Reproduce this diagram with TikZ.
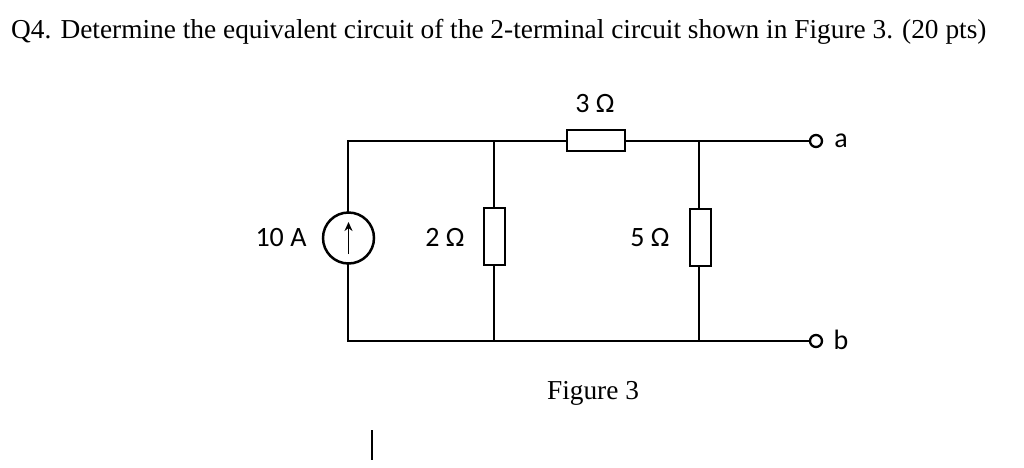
\documentclass[tikz,border=0pt]{standalone}
\usepackage{fontspec}
\setmainfont{Liberation Serif}
\newfontfamily\labelfont{Carlito}
\usetikzlibrary{arrows.meta}
\tikzset{
    wire/.style={line width=2.9pt},
    resistor/.style={draw, line width=2.9pt, fill=white, rectangle, inner sep=0pt},
    terminal/.style={draw, line width=2.3pt, fill=white, circle, inner sep=0pt, minimum size=12pt},
    complabel/.style={font=\labelfont\fontsize{28}{28}\selectfont, inner sep=0pt, anchor=base},
    titletext/.style={font=\fontsize{27.35}{30}\selectfont, inner sep=0pt, anchor=base}
}
\begin{document}
\begin{tikzpicture}[x=1pt,y=-1pt]
\useasboundingbox (0,0) rectangle (1024,467);
\node[titletext, anchor=base west] (title) at (11,38) {Q4. Determine the equivalent circuit of the 2-terminal circuit shown in Figure 3. (20 pts)};
% corners and junctions
\coordinate (tl) at (348,141);
\coordinate (bl) at (348,341);
\coordinate (j1) at (494,141);
\coordinate (j2) at (699,141);
\coordinate (j3) at (494,341);
\coordinate (j4) at (699,341);
\node[terminal] (a) at (816,141) {};
\node[terminal] (b) at (816,341) {};
\draw[wire] (a) -- (tl) -- (bl) -- (b);
\draw[wire] (j1) -- (j3);
\draw[wire] (j2) -- (j4);
\node[resistor, minimum width=58pt, minimum height=21pt] (r3) at (596,140.5) {};
\node[resistor, minimum width=21pt, minimum height=57pt] (r2) at (494.5,236.5) {};
\node[resistor, minimum width=21pt, minimum height=57pt] (r5) at (700.5,237.5) {};
\node[draw, line width=2.5pt, fill=white, circle, minimum size=51pt, inner sep=0pt] (src) at (348.5,238) {};
\coordinate (arrowtail) at (348.5,254);
\coordinate (arrowtip) at (348.5,222);
\draw[line width=1.9pt, -{Stealth[length=9pt,width=8pt]}] (arrowtail) -- (arrowtip);
\node[complabel] (l3) at (595,112) {3 Ω};
\node[complabel] (l2) at (445,246) {2 Ω};
\node[complabel] (l5) at (650,246) {5 Ω};
\node[complabel] (l10) at (281,246) {10 A};
\node[complabel] (la) at (841,147) {a};
\node[complabel] (lb) at (841,349) {b};
\node[titletext] (fig) at (593,399) {Figure 3};
\coordinate (cur1) at (372,430);
\coordinate (cur2) at (372,460);
\draw[line width=1.4pt] (cur1) -- (cur2);
\end{tikzpicture}
\end{document}
